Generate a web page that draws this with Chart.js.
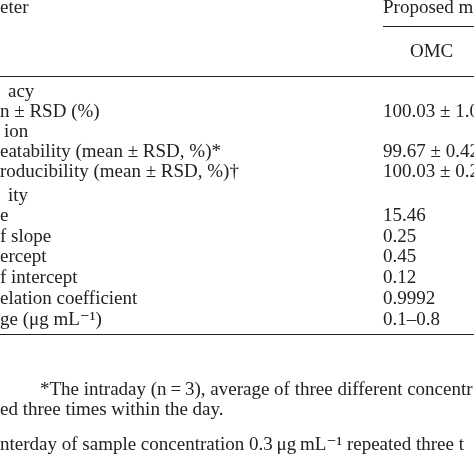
<!DOCTYPE html>
<html>
<head>
<meta charset="utf-8">
<script src="https://cdn.jsdelivr.net/npm/chart.js@4"></script>
<style>
  html, body { margin: 0; padding: 0; background: #fff; }
  #wrap { width: 474px; height: 474px; }
</style>
</head>
<body>
<div id="wrap"><canvas id="tableChart"></canvas></div>
<script>
// table content (cropped on the left/right like the reference)
const headerLeft = "eter";
const headerRight = "Proposed m";
const subHeader = "OMC";
const rowLabels = [
    "acy",
    "n \u00b1 RSD (%)",
    "ion",
    "eatability (mean \u00b1 RSD, %)*",
    "roducibility (mean \u00b1 RSD, %)\u2020",
    "ity",
    "e",
    "f slope",
    "ercept",
    "f intercept",
    "elation coefficient",
    "ge (\u03bcg mL\u207b\u00b9)"
];
const rowValues = ["", "100.03 \u00b1 1.0", "", "99.67 \u00b1 0.42", "100.03 \u00b1 0.2", "",
    "15.46", "0.25", "0.45", "0.12", "0.9992", "0.1\u20130.8"];
const rowY = [92, 112, 132, 152, 172, 196, 216, 237, 257, 278, 299, 320];
const rowIndent = [8, 0, 4, 0, 0, 8, 0, 0, 0, 0, 0, 0];
const footnotes = [
    "*The intraday (n\u2009=\u20093), average of three different concentr",
    "ed three times within the day.",
    "nterday of sample concentration 0.3\u2009\u03bcg\u2009mL\u207b\u00b9 repeated three t"
];
const footY = [390, 410, 445];
const footX = [40, 0, 0];

const valueX = 383;
const font = '19px "Liberation Serif", "DejaVu Serif", serif';

const tablePlugin = {
    id: "tableText",
    afterDraw(chart) {
        const c = chart.ctx;
        const xs = chart.scales.x, ys = chart.scales.y;
        const px = v => xs.getPixelForValue(v);
        const py = v => ys.getPixelForValue(v);
        c.save();
        c.fillStyle = "#222";
        c.font = font;
        c.textBaseline = "middle";
        c.fillText(headerLeft, px(0), py(8));
        c.fillText(headerRight, px(valueX), py(8));
        c.fillText(subHeader, px(410), py(52));
        rowLabels.forEach((t, i) => {
            c.fillText(t, px(rowIndent[i]), py(rowY[i]));
            if (rowValues[i]) c.fillText(rowValues[i], px(valueX), py(rowY[i]));
        });
        footnotes.forEach((t, i) => c.fillText(t, px(footX[i]), py(footY[i])));
        c.strokeStyle = "#222";
        c.lineWidth = 1;
        const hline = (x0, x1, y) => {
            c.beginPath();
            c.moveTo(px(x0), py(y) + 0.5);
            c.lineTo(px(x1), py(y) + 0.5);
            c.stroke();
        };
        hline(valueX, 474, 26);
        hline(0, 474, 76);
        hline(0, 474, 334);
        c.restore();
    }
};

new Chart(document.getElementById("tableChart").getContext("2d"), {
    type: "scatter",
    data: { datasets: [{ data: [] }] },
    options: {
        responsive: true,
        maintainAspectRatio: false,
        animation: false,
        layout: { padding: 0 },
        plugins: { legend: { display: false }, tooltip: { enabled: false } },
        scales: {
            x: { type: "linear", min: 0, max: 474, display: false },
            y: { type: "linear", min: 0, max: 474, reverse: true, display: false }
        }
    },
    plugins: [tablePlugin]
});
</script>
</body>
</html>
